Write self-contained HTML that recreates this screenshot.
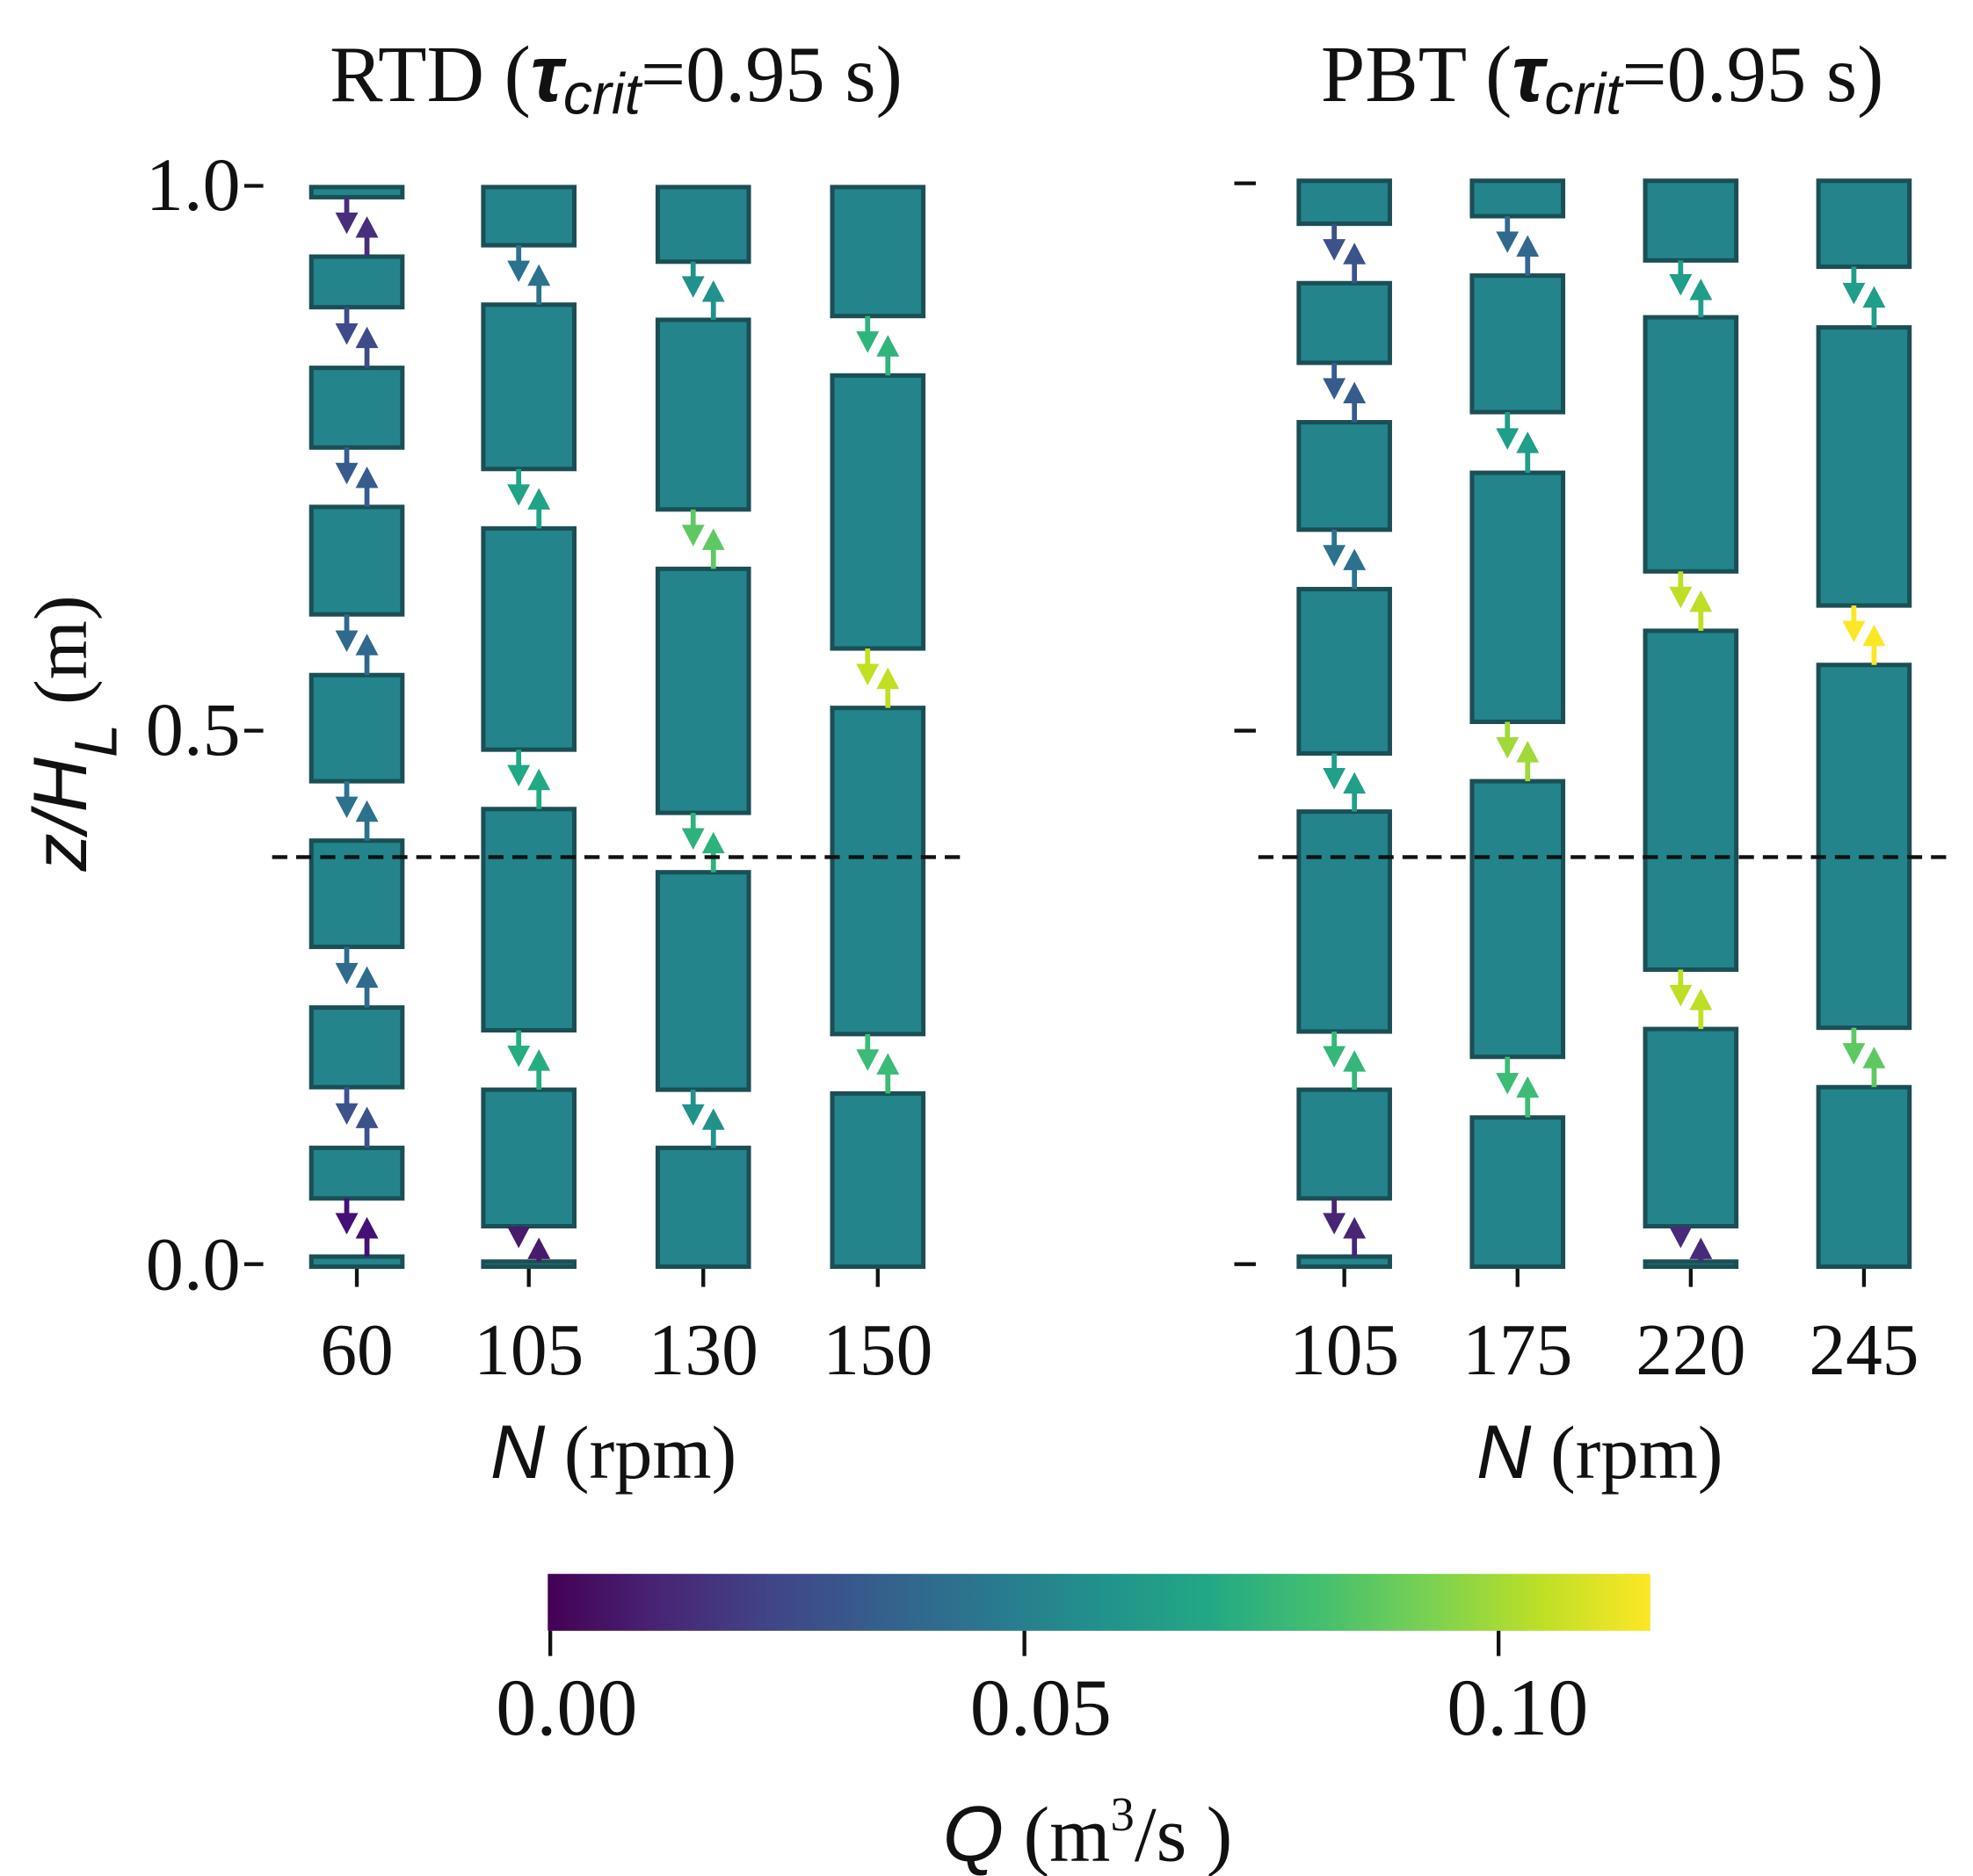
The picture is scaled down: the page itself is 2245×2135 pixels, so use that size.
<!DOCTYPE html>
<html><head><meta charset="utf-8"><style>
html,body{margin:0;padding:0;background:#fff;}
svg{display:block;}
text{font-family:"Liberation Serif",serif;fill:#111;}
.it{font-family:"Liberation Sans",sans-serif;font-style:italic;}
</style></head><body>
<svg id="s" width="2245" height="2135" viewBox="0 0 1560 1484" xmlns="http://www.w3.org/2000/svg">
<defs>
<linearGradient id="vir" x1="0" x2="1" y1="0" y2="0">
<stop offset="0" stop-color="#440154"/><stop offset="0.1" stop-color="#482475"/>
<stop offset="0.2" stop-color="#414487"/><stop offset="0.3" stop-color="#355f8d"/>
<stop offset="0.4" stop-color="#2a788e"/><stop offset="0.5" stop-color="#21918c"/>
<stop offset="0.6" stop-color="#22a884"/><stop offset="0.7" stop-color="#44bf70"/>
<stop offset="0.8" stop-color="#7ad151"/><stop offset="0.9" stop-color="#bddf26"/>
<stop offset="1" stop-color="#fde725"/></linearGradient>
</defs>
<g id="g"></g>
<!-- titles -->
<text x="487" y="80" font-size="63" text-anchor="middle">RTD (<tspan class="it" font-weight="bold">τ</tspan><tspan class="it" font-size="46" dy="10">crit</tspan><tspan dy="-10">=0.95 s)</tspan></text>
<text x="1267" y="80" font-size="63" text-anchor="middle">PBT (<tspan class="it" font-weight="bold">τ</tspan><tspan class="it" font-size="46" dy="10">crit</tspan><tspan dy="-10">=0.95 s)</tspan></text>
<!-- y tick labels -->
<text x="190" y="166" font-size="60" text-anchor="end">1.0</text>
<text x="190" y="597" font-size="60" text-anchor="end">0.5</text>
<text x="190" y="1020" font-size="60" text-anchor="end">0.0</text>
<g stroke="#111" stroke-width="3">
<line x1="193" y1="147" x2="208" y2="147"/><line x1="193" y1="578" x2="208" y2="578"/><line x1="193" y1="1000" x2="208" y2="1000"/>
<line x1="976" y1="145" x2="993" y2="145"/><line x1="976" y1="578" x2="993" y2="578"/><line x1="976" y1="1000" x2="993" y2="1000"/>
</g>
<!-- y label -->
<g transform="translate(68,580) rotate(-90)"><text x="0" y="0" font-size="60" text-anchor="middle"><tspan class="it">z/H</tspan><tspan class="it" font-size="48" dy="24">L</tspan><tspan dy="-24"> (m)</tspan></text></g>
<!-- x tick labels -->
<g font-size="58" text-anchor="middle">
<text x="282" y="1087">60</text><text x="418" y="1087">105</text><text x="556" y="1087">130</text><text x="694" y="1087">150</text>
<text x="1063" y="1087">105</text><text x="1200" y="1087">175</text><text x="1337" y="1087">220</text><text x="1474" y="1087">245</text>
</g>
<text x="485" y="1169" font-size="60" text-anchor="middle"><tspan class="it">N</tspan> (rpm)</text>
<text x="1265" y="1169" font-size="60" text-anchor="middle"><tspan class="it">N</tspan> (rpm)</text>
<!-- dashed lines -->
<g stroke="#111" stroke-width="3" stroke-dasharray="12,7">
<line x1="215" y1="678" x2="765" y2="678"/><line x1="995" y1="678" x2="1545" y2="678"/>
</g>
<!-- colorbar -->
<rect x="433" y="1245" width="872" height="45" fill="url(#vir)"/>
<g stroke="#111" stroke-width="3"><line x1="435" y1="1290" x2="435" y2="1310"/><line x1="810" y1="1290" x2="810" y2="1310"/><line x1="1185" y1="1290" x2="1185" y2="1310"/></g>
<g font-size="64" text-anchor="middle"><text x="448" y="1372">0.00</text><text x="823" y="1372">0.05</text><text x="1200" y="1372">0.10</text></g>
<text x="860" y="1472" font-size="62" text-anchor="middle"><tspan class="it">Q</tspan> (m<tspan font-size="38" dy="-24">3</tspan><tspan dy="24">/s )</tspan></text>
</svg>
<script>
var cols=[
[282,[[148,156],[203,243],[291,354],[401,486],[534,618],[665,749],[797,860],[908,948],[994,1002]],["#472d7b","#3e4a89","#375b8d","#31688e","#2c728e","#2f6b8e","#3b528b","#440f76"]],
[418,[[148,194],[241,371],[418,593],[640,815],[862,970],[998,1002]],["#2c728e","#20a386","#22a884","#25ac82","#481a6c"]],
[556,[[148,207],[253,403],[450,643],[690,862],[908,1002]],["#21918c","#5ec962","#2db27d","#21918c"]],
[694,[[148,250],[297,513],[560,818],[865,1002]],["#2fb47c","#c2df23","#3bbb75"]],
[1063,[[143,177],[224,287],[334,419],[466,596],[642,816],[862,948],[994,1002]],["#3b528b","#375b8d","#2c728e","#1fa088","#35b779","#482575"]],
[1200,[[143,171],[218,326],[374,571],[618,836],[884,1002]],["#31688e","#1f9e89","#a0da39","#3dbc74"]],
[1337,[[143,206],[251,452],[499,767],[814,970],[998,1002]],["#1f9e89","#bddf26","#bddf26","#472a7a"]],
[1474,[[143,211],[259,479],[526,813],[860,1002]],["#1f9e89","#fde725","#5ec962"]]
];
var h="";
cols.forEach(function(c){
 var x=c[0],b=c[1];
 h+='<line x1="'+x+'" y1="1002" x2="'+x+'" y2="1018" stroke="#111" stroke-width="3"/>';
 b.forEach(function(r){h+='<rect x="'+(x-36)+'" y="'+r[0]+'" width="72" height="'+(r[1]-r[0])+'" fill="#23848c" stroke="#1b4f55" stroke-width="3.5"/>';});
 for(var i=0;i<b.length-1;i++){
  var y0=b[i][1],y1=b[i+1][0],g=y1-y0,col=c[2][i];
  var xd=x-8,xu=x+8,dt=y0+g*0.62,ut=y1-g*0.68;
  h+='<line x1="'+xd+'" y1="'+y0+'" x2="'+xd+'" y2="'+(dt-10)+'" stroke="'+col+'" stroke-width="4"/>';
  h+='<polygon points="'+(xd-9)+','+(dt-17)+' '+(xd+9)+','+(dt-17)+' '+xd+','+dt+'" fill="'+col+'"/>';
  h+='<line x1="'+xu+'" y1="'+y1+'" x2="'+xu+'" y2="'+(ut+10)+'" stroke="'+col+'" stroke-width="4"/>';
  h+='<polygon points="'+(xu-9)+','+(ut+17)+' '+(xu+9)+','+(ut+17)+' '+xu+','+ut+'" fill="'+col+'"/>';
 }
});
document.getElementById("g").innerHTML=h;
</script>
</body></html>
